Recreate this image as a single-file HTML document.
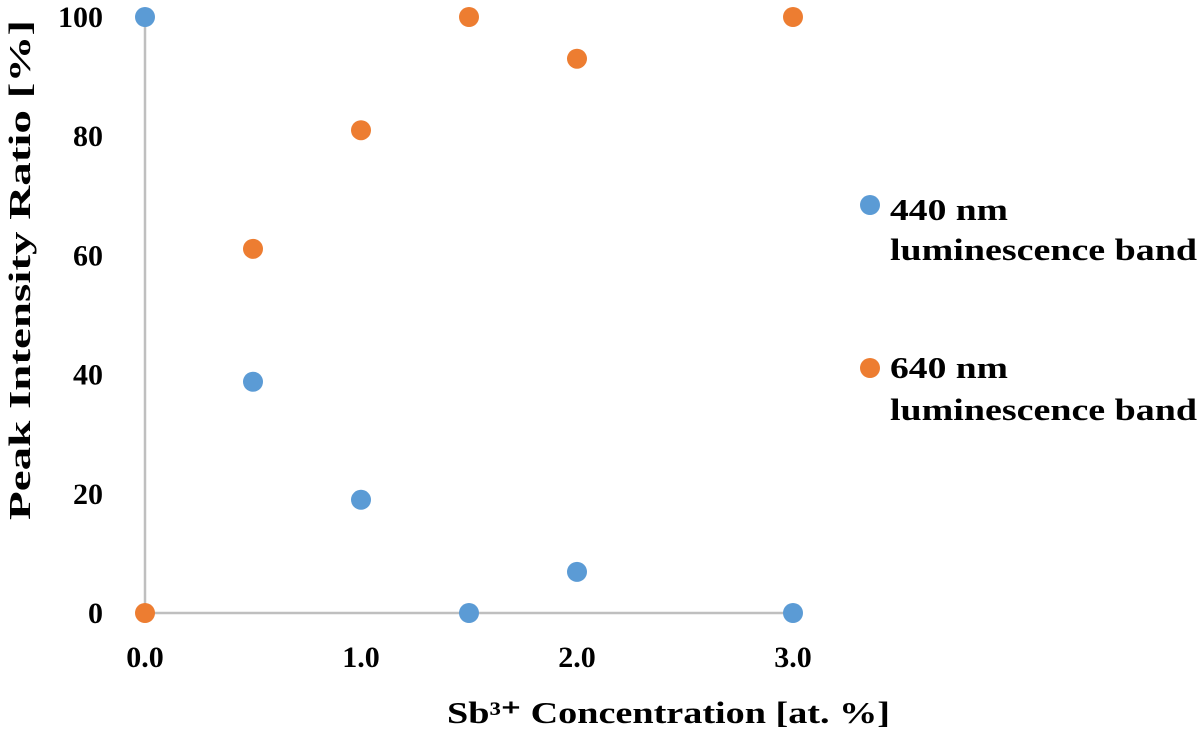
<!DOCTYPE html>
<html><head><meta charset="utf-8"><style>
body{margin:0;background:#fff;}
svg text{font-family:"Liberation Serif",serif;font-weight:bold;fill:#000;}
</style></head><body>
<svg width="1200" height="730">
<g id="axes"></g><g id="marks"></g>
<text x="447" y="723" font-size="31" textLength="443" lengthAdjust="spacingAndGlyphs">Sb³⁺ Concentration [at. %]</text>
<text transform="translate(30,520) rotate(-90)" font-size="31" textLength="500" lengthAdjust="spacingAndGlyphs">Peak Intensity Ratio [%]</text>
<g>
<circle cx="870" cy="205" r="10" fill="#5B9BD5"/>
<text x="890" y="220" font-size="31" textLength="118" lengthAdjust="spacingAndGlyphs">440 nm</text>
<text x="890" y="260" font-size="31" textLength="307" lengthAdjust="spacingAndGlyphs">luminescence band</text>
<circle cx="870" cy="368" r="10" fill="#ED7D31"/>
<text x="890" y="378" font-size="31" textLength="118" lengthAdjust="spacingAndGlyphs">640 nm</text>
<text x="890" y="420" font-size="31" textLength="307" lengthAdjust="spacingAndGlyphs">luminescence band</text>
</g>
</svg>
<script>
const xValues=[0,0.5,1.0,1.5,2.0,3.0];
const blue440=[100,38.8,19,0,6.9,0];
const orange640=[0,61.1,81,100,93,100];
const xTicks=["0.0","1.0","2.0","3.0"];
const xTickVals=[0,1,2,3];
const yTicks=[0,20,40,60,80,100];
const NS="http://www.w3.org/2000/svg";
const X=v=>145+v*216, Y=v=>613-v*5.96;
const axes=document.getElementById('axes'), marks=document.getElementById('marks');
function mk(t,a,p){const e=document.createElementNS(NS,t);for(const k in a)e.setAttribute(k,a[k]);p.appendChild(e);return e;}
let l=mk('line',{x1:X(0),y1:Y(0),x2:X(0),y2:Y(100),stroke:'#BFBFBF','stroke-width':2.5},axes);


l=mk('line',{x1:X(0),y1:Y(0),x2:X(3),y2:Y(0),stroke:'#BFBFBF','stroke-width':2.5},axes);


yTicks.forEach(v=>{const t=mk('text',{x:103,y:Y(v)+10,'font-size':30,'text-anchor':'end'},axes);t.textContent=v;

});
xTickVals.forEach((v,i)=>{const t=mk('text',{x:X(v),y:667,'font-size':30,'text-anchor':'middle'},axes);t.textContent=xTicks[i];

});
xValues.forEach((x,i)=>{
const b=mk('circle',{cx:X(x),cy:Y(blue440[i]),r:10,fill:'#5B9BD5'},marks);


const o=mk('circle',{cx:X(x),cy:Y(orange640[i]),r:10,fill:'#ED7D31'},marks);


});
</script>
</body></html>
